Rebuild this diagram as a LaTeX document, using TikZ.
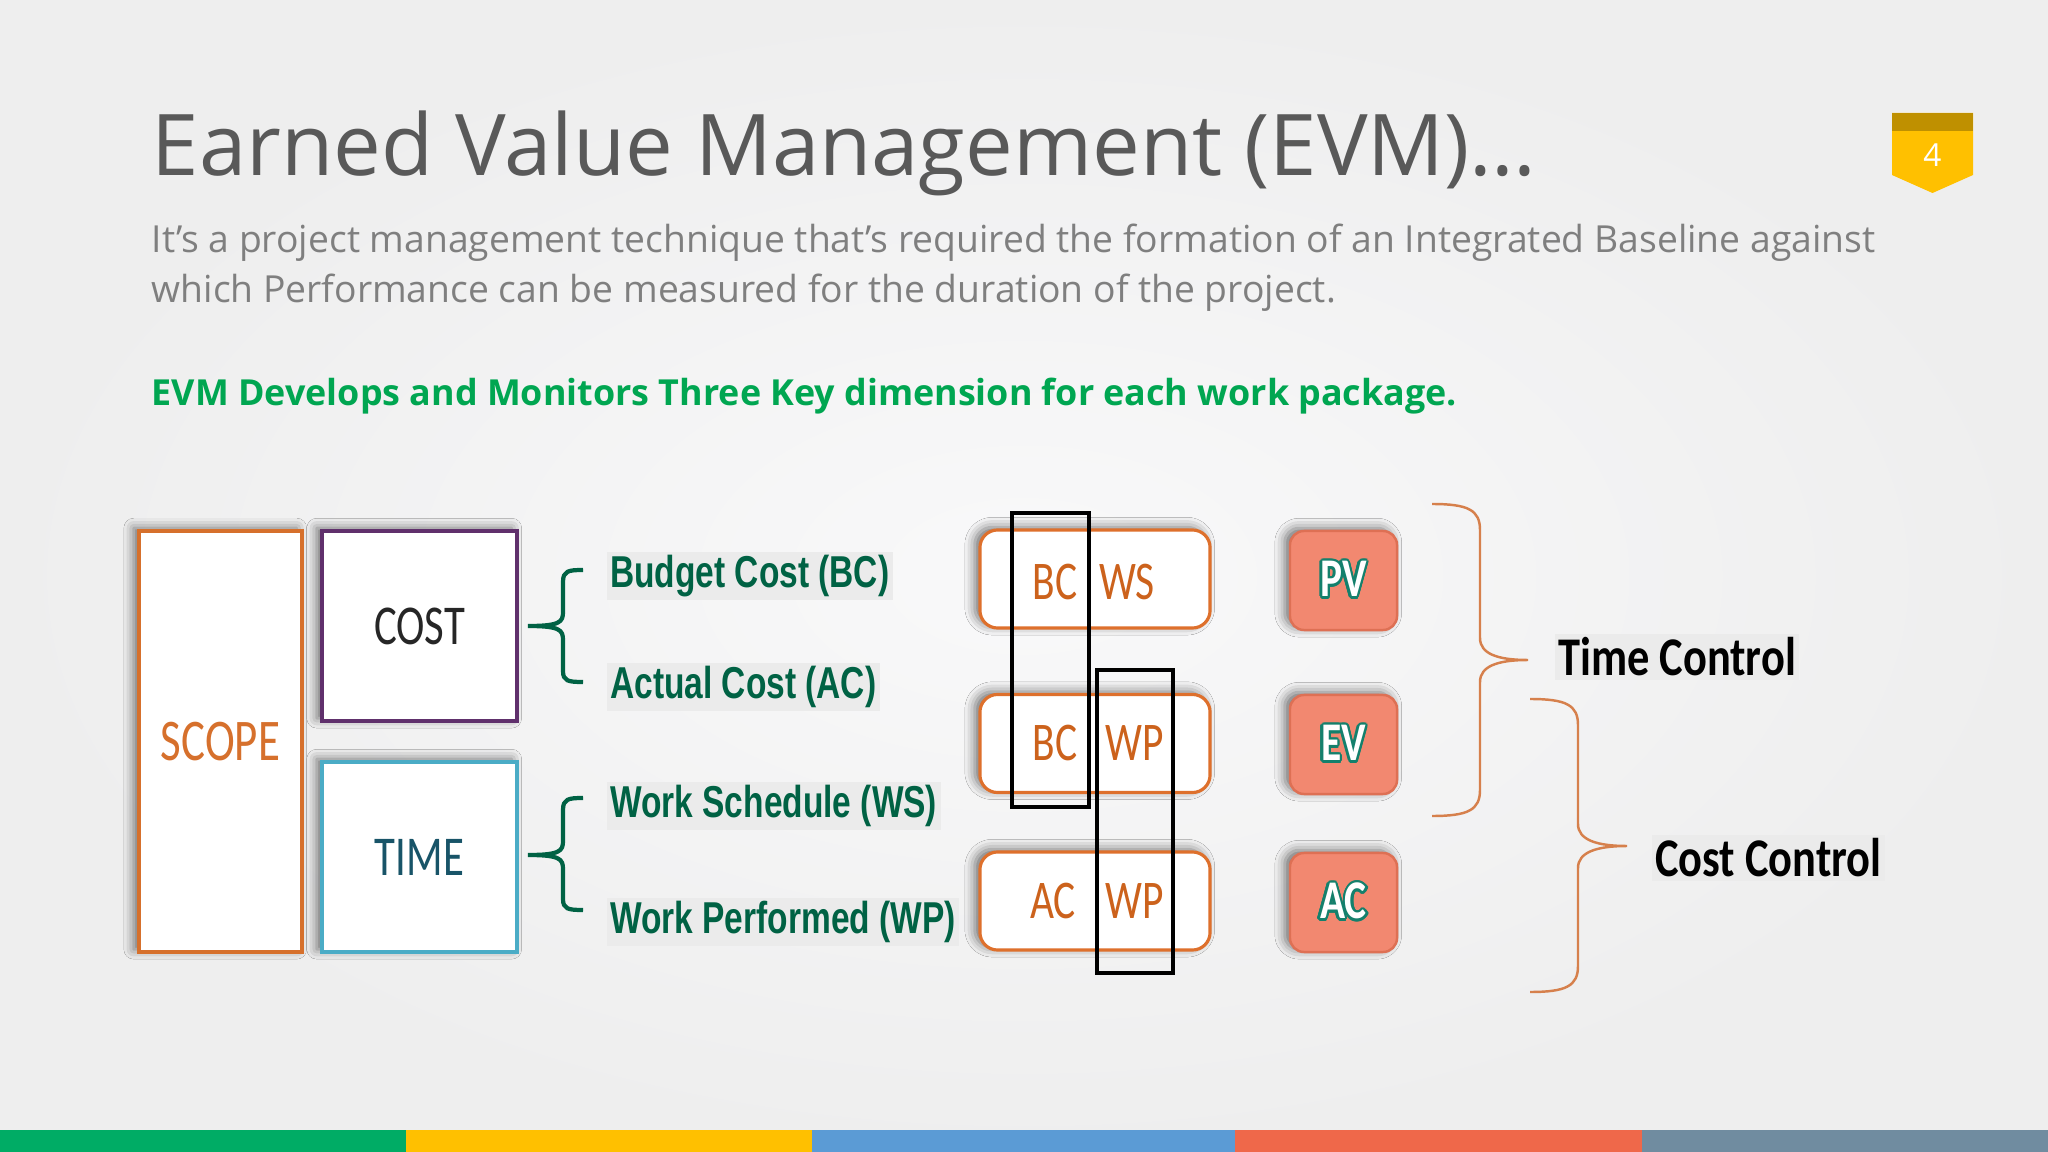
\documentclass[tikz,border=0pt]{standalone}
\usepackage{fontspec}
\setmainfont{Open Sans}
\newfontfamily\diafont[FakeStretch=0.76]{Carlito}
\newfontfamily\ctrlfont[FakeStretch=0.815]{Carlito}
\newfontfamily\narrowfont[FakeStretch=0.75]{Liberation Sans}
\usepackage[copies]{contour}
\contourlength{0.7pt}
\usetikzlibrary{shadows.blur}

\definecolor{titlegray}{RGB}{89,89,89}
\definecolor{bodygray}{RGB}{127,127,127}
\definecolor{headgreen}{RGB}{0,166,81}
\definecolor{bargreen}{RGB}{0,172,101}
\definecolor{baryellow}{RGB}{255,192,0}
\definecolor{barblue}{RGB}{91,155,213}
\definecolor{barred}{RGB}{239,104,74}
\definecolor{barslate}{RGB}{112,140,160}
\definecolor{badgedark}{RGB}{191,144,0}
\definecolor{scopeorange}{RGB}{214,112,44}
\definecolor{costpurple}{RGB}{96,48,108}
\definecolor{timecyan}{RGB}{75,172,198}
\definecolor{timetext}{RGB}{24,84,104}
\definecolor{termgreen}{RGB}{0,98,68}
\definecolor{roworange}{RGB}{222,112,44}
\definecolor{rowtext}{RGB}{204,98,28}
\definecolor{salmon}{RGB}{242,136,112}
\definecolor{salmonline}{RGB}{222,112,84}
\definecolor{valteal}{RGB}{20,128,108}
\definecolor{braceorange}{RGB}{214,128,76}

\tikzset{
  boxshadow/.style={blur shadow={shadow xshift=-1.5pt, shadow yshift=0.8pt,
      shadow blur radius=2.8pt, shadow opacity=55}},
  dimbox/.style={draw, line width=1pt, fill=white, boxshadow, inner sep=0pt,
      font=\diafont\fontsize{16}{18}\selectfont},
  rowbox/.style={draw=roworange, line width=0.9pt, fill=white, rounded corners=5pt,
      minimum width=2.30cm, minimum height=0.98cm, boxshadow},
  rowtxt/.style={text=rowtext, inner sep=0pt, font=\diafont\fontsize{15.5}{18}\selectfont},
  selbox/.style={draw=black, line width=1pt, inner sep=0pt},
  valbox/.style={draw=salmonline, fill=salmon, line width=0.7pt, rounded corners=4pt,
      minimum width=1.07cm, minimum height=0.99cm, boxshadow, text=white,
      font=\diafont\bfseries\fontsize{15.5}{18}\selectfont},
  termtxt/.style={anchor=west, text=termgreen, fill=black!8, inner sep=1pt,
      font=\narrowfont\bfseries\fontsize{12.7}{14}\selectfont},
  ctrltxt/.style={anchor=west, text=black, fill=black!8, inner sep=1pt,
      font=\ctrlfont\bfseries\fontsize{15.5}{18}\selectfont},
  gbrace/.style={draw=termgreen, line width=1.2pt},
  obrace/.style={draw=braceorange, line width=0.7pt}
}

\begin{document}
\begin{tikzpicture}[x=0.01cm, y=-0.01cm]
  \useasboundingbox (0,0) rectangle (2048,1152);
  % background and colour strip
  \shade[inner color={rgb,255:red,249;green,249;blue,250}, outer color={rgb,255:red,238;green,238;blue,238}]
    (0,0) rectangle (2048,1152);
  \fill[bargreen]  (0,1130) rectangle (406,1152);
  \fill[baryellow] (406,1130) rectangle (812,1152);
  \fill[barblue]   (812,1130) rectangle (1235,1152);
  \fill[barred]    (1235,1130) rectangle (1642,1152);
  \fill[barslate]  (1642,1130) rectangle (2048,1152);

  % page badge
  \fill[baryellow] (1892,113) -- (1973,113) -- (1973,175) -- (1932.5,193) -- (1892,175) -- cycle;
  \fill[badgedark] (1892,113) rectangle (1973,131);
  \node[text=white, font=\fontsize{9}{10}\selectfont] (pagenum) at (1932.5,155) {4};

  % heading
  \node[anchor=base west, inner sep=0pt, text=titlegray, font=\fontsize{24.2}{30}\selectfont]
    (title) at (151,176) {Earned Value Management (EVM)\ldots};
  \node[anchor=north west, inner sep=0pt, align=left, text=bodygray, font=\fontsize{10.6}{14.2}\selectfont]
    (intro) at (151,223) {It’s a project management technique that’s required the formation of an Integrated Baseline against\\
    which Performance can be measured for the duration of the project.};
  \node[anchor=west, inner sep=0pt, text=headgreen, font=\bfseries\fontsize{10.2}{12}\selectfont]
    (keyline) at (151,396) {EVM Develops and Monitors Three Key dimension for each work package.};

  % dimensions
  \node[dimbox, draw=scopeorange, text=scopeorange, minimum width=1.63cm, minimum height=4.21cm,
    font=\diafont\fontsize{16.8}{18}\selectfont] (scope) at (220.5,741.5) {SCOPE};
  \node[dimbox, draw=costpurple, text=black!85, minimum width=1.95cm, minimum height=1.90cm]
    (cost) at (419.5,626) {COST};
  \node[dimbox, draw=timecyan, text=timetext, minimum width=1.95cm, minimum height=1.90cm]
    (time) at (419.5,857) {TIME};

  % terms
  \node[termtxt] (bc) at (606,576) {Budget Cost (BC)};
  \node[termtxt] (ac) at (606,687) {Actual Cost (AC)};
  \node[termtxt] (ws) at (606,806) {Work Schedule (WS)};
  \node[termtxt] (wp) at (606,922) {Work Performed (WP)};

  \coordinate (costtip) at (528,626);
  \coordinate (timetip) at (528,855);
  \draw[gbrace] (583,570) .. controls (568,570) and (563,571) .. (563,582) -- (563,612)
    .. controls (563,622) and (560,626) .. (costtip)
    .. controls (560,626) and (563,630) .. (563,640) -- (563,671)
    .. controls (563,681) and (568,682) .. (583,682);
  \draw[gbrace] (583,798) .. controls (568,798) and (563,799) .. (563,810) -- (563,841)
    .. controls (563,851) and (560,855) .. (timetip)
    .. controls (560,855) and (563,859) .. (563,869) -- (563,899)
    .. controls (563,909) and (568,910) .. (583,910);

  % combinations
  \node[rowbox] (row1) at (1095,579) {};
  \node[rowbox] (row2) at (1095,743.5) {};
  \node[rowbox] (row3) at (1095,901) {};
  \node[rowtxt] (row1a) at (1055,582) {BC};
  \node[rowtxt] (row1b) at (1127,582) {WS};
  \node[rowtxt] (row2a) at (1055,743) {BC};
  \node[rowtxt] (row2b) at (1135,743) {WP};
  \node[rowtxt] (row3a) at (1053,901) {AC};
  \node[rowtxt] (row3b) at (1135,901) {WP};
  \node[selbox, minimum width=0.77cm, minimum height=2.94cm] (bccol) at (1050.5,660) {};
  \node[selbox, minimum width=0.76cm, minimum height=3.03cm] (wpcol) at (1135,821.5) {};

  % values
  \node[valbox] (pv) at (1343.5,580.5) {\contour{valteal}{PV}};
  \node[valbox] (ev) at (1343.5,744.5) {\contour{valteal}{EV}};
  \node[valbox] (acv) at (1343.5,902.5) {\contour{valteal}{AC}};

  % controls
  \coordinate (timectip) at (1528,660);
  \coordinate (costctip) at (1627,846);
  \draw[obrace] (1432,504) .. controls (1468,504) and (1480,510) .. (1480,530) -- (1480,638)
    .. controls (1480,654) and (1498,660) .. (timectip)
    .. controls (1498,660) and (1480,666) .. (1480,682) -- (1480,790)
    .. controls (1480,810) and (1468,816) .. (1432,816);
  \draw[obrace] (1530,699) .. controls (1566,699) and (1578,705) .. (1578,725) -- (1578,824)
    .. controls (1578,840) and (1597,846) .. (costctip)
    .. controls (1597,846) and (1578,852) .. (1578,868) -- (1578,966)
    .. controls (1578,986) and (1566,992) .. (1530,992);
  \node[ctrltxt] (timectl) at (1554,657) {Time Control};
  \node[ctrltxt] (costctl) at (1651,858) {Cost Control};
\end{tikzpicture}
\end{document}
